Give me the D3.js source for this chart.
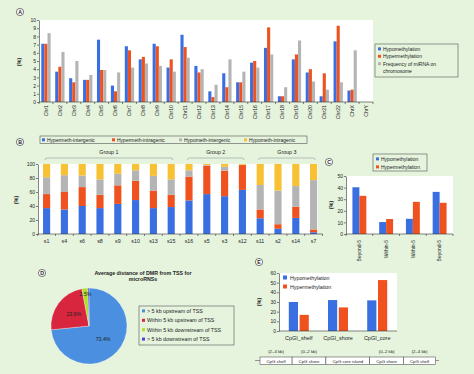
<!DOCTYPE html>
<html>
<head>
<meta charset="utf-8">
<script src="https://cdn.jsdelivr.net/npm/d3@7"></script>
<style>
  body { margin: 0; background: #e6f4de; }
  text { font-family: "Liberation Sans", Arial, sans-serif; fill: #222; }
</style>
</head>
<body>
<svg id="fig"></svg>
<script>
// ---- panel A data
let chrNames = ['Chr1','Chr2','Chr3','Chr4','Chr5','Chr6','Chr7','Chr8','Chr9','Chr10','Chr11','Chr12',
                'Chr13','Chr14','Chr15','Chr16','Chr17','Chr18','Chr19','Chr20','Chr21','Chr22','ChrX','ChrY'];
let hypoA  = [7.1, 3.7, 2.9, 2.7, 7.6, 2.0, 6.8, 5.2, 7.1, 4.2, 8.2, 4.4, 1.3, 3.5, 2.4, 4.8, 6.6, 0.7, 5.2, 3.6, 0.7, 7.4, 1.4, 0];
let hyperA = [7.1, 4.3, 2.4, 2.7, 3.9, 1.3, 6.3, 5.5, 6.8, 5.2, 6.7, 3.6, 0.6, 1.8, 2.4, 5.0, 9.1, 0.7, 5.8, 4.0, 3.5, 9.3, 1.5, 0];
let mirnaA = [8.4, 6.1, 5.0, 3.3, 3.9, 3.6, 4.2, 4.7, 4.4, 3.7, 5.4, 4.0, 2.1, 5.2, 3.7, 4.2, 5.8, 1.8, 7.5, 2.5, 1.5, 2.4, 6.3, 0];
let legendA = ['Hypomethylation', 'Hypermethylation', 'Frequency of miRNA on|chromosome'];

// ---- panel B data
let samplesB = ['s1','s4','s6','s8','s9','s10','s13','s15','s16','s5','s3','s12','s11','s2','s14','s7'];
let hyperInter = [37, 35, 40, 37, 43, 48.5, 37, 38.5, 48, 57, 54, 63, 22.5, 7.5, 23, 2.5];
let hyperIntra = [20, 25, 27, 19, 26.5, 27.5, 25, 17.5, 34, 40.5, 36.5, 35.5, 12.5, 6.5, 16, 4];
let hypoInter  = [24, 24, 16.5, 22, 16.5, 15, 21, 22, 9, 1, 5.5, 0.5, 35, 48, 29.5, 70.5];
let hypoIntra  = [19, 16, 16.5, 22, 14, 9, 17, 22, 9, 1.5, 4, 1, 30, 38, 31.5, 23];
let legendB = ['Hypermeth-intergenic', 'Hypermeth-intragenic', 'Hypometh-intergenic', 'Hypometh-intragenic'];
let groupNames = ['Group 1', 'Group 2', 'Group 3'];
let groupFirst = ['s1', 's16', 's11'];
let groupLast  = ['s15', 's12', 's7'];

// ---- panel C data
let catsC = ['Beyond-5', 'Within-5', 'Within-5', 'Beyond-5'];
let hypoC  = [40.3, 10.3, 13.1, 36.3];
let hyperC = [32.9, 12.9, 27.7, 26.9];

// ---- panel D data
let sliceNames = ['> 5 kb upstream of TSS', 'Within 5 kb upstream of TSS', 'Within 5 kb downstream of TSS', '> 5 kb downstream of TSS'];
let sliceValues = [73.4, 23.6, 2.5, 0.5];
let sliceLabels = ['73.4%', '23.6%', '2.5%', ''];

// ---- panel E data
let catsE = ['CpGI_shelf', 'CpGI_shore', 'CpGI_core'];
let hypoE  = [30, 32, 31.7];
let hyperE = [16.7, 24.4, 52.7];
let regionNames = ['CpG shelf', 'CpG shore', 'CpG core island', 'CpG shore', 'CpG shelf'];
let regionRanges = ['(2–4 kb)', '(0–2 kb)', '', '(0–2 kb)', '(2–4 kb)'];

let blue = '#3a6fe2', red = '#f0521f', gray = '#b4b4b4', yellow = '#f8c133';

let svg = d3.select('#fig').attr('width', 474).attr('height', 374);
svg.append('rect').attr('width', 474).attr('height', 374).attr('fill', '#e6f4de');

function styleAxis(g, fs) {
  g.selectAll('path, line').attr('stroke', '#333').attr('stroke-width', 0.6);
  g.selectAll('text').attr('font-size', fs || 5).attr('fill', '#222').attr('font-family', null);
}

function panelLetter(x, y, letter) {
  svg.append('circle').attr('cx', x).attr('cy', y).attr('r', 3.6)
     .attr('fill', '#fff').attr('stroke', '#222').attr('stroke-width', 0.6);
  svg.append('text').attr('x', x).attr('y', y + 1.9).attr('text-anchor', 'middle')
     .attr('font-size', 5.2).attr('font-weight', 'bold').text(letter);
}

function yLabel(x, y) {
  svg.append('text').attr('transform', 'translate(' + x + ',' + y + ') rotate(-90)')
     .attr('text-anchor', 'middle').attr('font-size', 5.5).attr('font-weight', 'bold').text('(%)');
}

// boundary ticks under a band scale
function bandTicks(scale, y) {
  let bounds = scale.domain().map(d => scale(d) - scale.step() * scale.paddingInner() / 2);
  bounds.push(scale.range()[1]);
  svg.append('g').selectAll('line').data(bounds).join('line')
     .attr('x1', d => d).attr('x2', d => d).attr('y1', y).attr('y2', y + 2)
     .attr('stroke', '#333').attr('stroke-width', 0.6);
  svg.append('line').attr('x1', scale.range()[0]).attr('x2', scale.range()[1])
     .attr('y1', y).attr('y2', y).attr('stroke', '#333').attr('stroke-width', 0.6);
}

function legendBox(x, y, w, h, names, colors, rowH, fs) {
  let g = svg.append('g');
  g.append('rect').attr('x', x).attr('y', y).attr('width', w).attr('height', h)
   .attr('fill', 'none').attr('stroke', '#555').attr('stroke-width', 0.6);
  let row = 0;
  names.forEach((n, i) => {
    let lines = n.split('|');
    let cy = y + 5 + row * rowH;
    g.append('rect').attr('x', x + 3).attr('y', cy - 1.6).attr('width', 3).attr('height', 3).attr('fill', colors[i]);
    lines.forEach((l, k) => {
      g.append('text').attr('x', x + 8).attr('y', cy + 1.8 + k * rowH).attr('font-size', fs).text(l);
    });
    row += lines.length;
  });
}

// ================= Panel A
panelLetter(20, 12, 'A');
let xA = d3.scaleBand().domain(chrNames).range([39, 373]).paddingInner(0.33).paddingOuter(0.165);
let subA = d3.scaleBand().domain([0, 1, 2]).range([0, xA.bandwidth()]);
let yA = d3.scaleLinear().domain([0, 10]).range([102, 20]);
svg.append('rect').attr('x', 39).attr('y', yA(10)).attr('width', 334).attr('height', yA(0) - yA(10)).attr('fill', '#fff');
let seriesA = [hypoA, hyperA, mirnaA];
let colorsA = [blue, red, gray];
seriesA.forEach((s, j) => {
  svg.append('g').selectAll('rect').data(s).join('rect')
     .attr('x', (d, i) => xA(chrNames[i]) + subA(j))
     .attr('y', d => yA(d))
     .attr('width', subA.bandwidth())
     .attr('height', d => yA(0) - yA(d))
     .attr('fill', colorsA[j]);
});
let gyA = svg.append('g').attr('transform', 'translate(39,0)')
  .call(d3.axisLeft(yA).ticks(10).tickSize(2).tickPadding(1).tickSizeOuter(0));
styleAxis(gyA, 5);
bandTicks(xA, yA(0));
svg.append('g').selectAll('text').data(chrNames).join('text')
   .attr('transform', d => 'translate(' + (xA(d) + xA.bandwidth() / 2 + 1.8) + ',' + (yA(0) + 3) + ') rotate(-90)')
   .attr('text-anchor', 'end').attr('font-size', 5.2).text(d => d);
yLabel(21, 62);
legendBox(375, 44, 83, 33, legendA, colorsA, 7.4, 5);

// ================= Panel B
panelLetter(20, 142, 'B');
let xB = d3.scaleBand().domain(samplesB).range([37.7, 322.5]).paddingInner(0.6).paddingOuter(0.3);
let yB = d3.scaleLinear().domain([0, 100]).range([234, 164]);
svg.append('rect').attr('x', 38).attr('y', yB(100)).attr('width', 280).attr('height', yB(0) - yB(100)).attr('fill', '#fff');
let keysB = ['hyperInter', 'hyperIntra', 'hypoInter', 'hypoIntra'];
let colorsB = [blue, red, gray, yellow];
let tableB = samplesB.map((s, i) => ({ sample: s, hyperInter: hyperInter[i], hyperIntra: hyperIntra[i], hypoInter: hypoInter[i], hypoIntra: hypoIntra[i] }));
let stackB = d3.stack().keys(keysB)(tableB);
svg.append('g').selectAll('g').data(stackB).join('g')
   .attr('fill', (d, i) => colorsB[i])
   .selectAll('rect').data(d => d).join('rect')
   .attr('x', d => xB(d.data.sample))
   .attr('y', d => yB(d[1]))
   .attr('width', xB.bandwidth())
   .attr('height', d => yB(d[0]) - yB(d[1]));
let gyB = svg.append('g').attr('transform', 'translate(38,0)')
  .call(d3.axisLeft(yB).tickValues([0, 20, 40, 60, 80, 100]).tickSize(2).tickPadding(1).tickSizeOuter(0));
styleAxis(gyB, 5);
bandTicks(xB, yB(0));
svg.append('g').selectAll('text').data(samplesB).join('text')
   .attr('x', d => xB(d) + xB.bandwidth() / 2).attr('y', yB(0) + 9)
   .attr('text-anchor', 'middle').attr('font-size', 5.3).text(d => d);
yLabel(18, 200);
// legend B (single row)
let lgB = svg.append('g');
lgB.append('rect').attr('x', 40).attr('y', 136).attr('width', 267).attr('height', 7.5)
   .attr('fill', 'none').attr('stroke', '#555').attr('stroke-width', 0.6);
let lgBx = [42, 112, 179, 244];
legendB.forEach((n, i) => {
  lgB.append('rect').attr('x', lgBx[i]).attr('y', 138.3).attr('width', 3).attr('height', 3).attr('fill', colorsB[i]);
  lgB.append('text').attr('x', lgBx[i] + 5).attr('y', 141.6).attr('font-size', 5).text(n);
});
// group brackets
groupNames.forEach((g, i) => {
  let x1 = xB(groupFirst[i]) + 2, x2 = xB(groupLast[i]) + xB.bandwidth() - 2, yb = 158;
  svg.append('path').attr('d', 'M' + x1 + ',' + (yb + 2) + 'Q' + x1 + ',' + yb + ' ' + (x1 + 2) + ',' + yb +
                      'L' + (x2 - 2) + ',' + yb + 'Q' + x2 + ',' + yb + ' ' + x2 + ',' + (yb + 2))
     .attr('fill', 'none').attr('stroke', '#8a9a9a').attr('stroke-width', 0.6);
  svg.append('text').attr('x', (x1 + x2) / 2).attr('y', 154).attr('text-anchor', 'middle').attr('font-size', 5.3).text(g);
});

// ================= Panel C
panelLetter(329, 162, 'C');
let idxC = catsC.map((d, i) => i);
let xC = d3.scaleBand().domain(idxC).range([346, 453]).paddingInner(0.48).paddingOuter(0.24);
let subC = d3.scaleBand().domain([0, 1]).range([0, xC.bandwidth()]);
let yC = d3.scaleLinear().domain([0, 50]).range([234, 176]);
svg.append('rect').attr('x', 346).attr('y', yC(50)).attr('width', 107).attr('height', yC(0) - yC(50)).attr('fill', '#fff');
[hypoC, hyperC].forEach((s, j) => {
  svg.append('g').selectAll('rect').data(s).join('rect')
     .attr('x', (d, i) => xC(i) + subC(j)).attr('y', d => yC(d))
     .attr('width', subC.bandwidth()).attr('height', d => yC(0) - yC(d))
     .attr('fill', [blue, red][j]);
});
let gyC = svg.append('g').attr('transform', 'translate(346,0)')
  .call(d3.axisLeft(yC).ticks(5).tickSize(2).tickPadding(1).tickSizeOuter(0));
styleAxis(gyC, 5);
bandTicks(xC, yC(0));
svg.append('g').selectAll('text').data(catsC).join('text')
   .attr('transform', (d, i) => 'translate(' + (xC(i) + xC.bandwidth() / 2 + 1.8) + ',' + (yC(0) + 6) + ') rotate(-90)')
   .attr('text-anchor', 'end').attr('font-size', 5).text(d => d);
yLabel(333, 205);
legendBox(373, 154, 54, 17, ['Hypomethylation', 'Hypermethylation'], [blue, red], 8, 5);

// ================= Panel D
panelLetter(42, 273, 'D');
svg.append('text').attr('x', 143).attr('y', 274.5).attr('text-anchor', 'middle')
   .attr('font-size', 5.3).attr('font-weight', 'bold').text('Average distance of DMR from TSS for');
svg.append('text').attr('x', 143).attr('y', 281).attr('text-anchor', 'middle')
   .attr('font-size', 5.3).attr('font-weight', 'bold').text('microRNSs');
let pieColors = ['#4a8fe0', '#d8263f', '#aede2a', '#5a3fd8'];
let r = 38;
let pie = d3.pie().sort(null)(sliceValues);
let arc = d3.arc().innerRadius(0).outerRadius(r);
let gD = svg.append('g').attr('transform', 'translate(89,326)');
gD.selectAll('path').data(pie).join('path').attr('d', arc)
  .attr('fill', (d, i) => pieColors[i]).attr('stroke', '#fff').attr('stroke-width', 0.3);
let labelArc = d3.arc().innerRadius(r * 0.5).outerRadius(r * 0.5);
let smallArc = d3.arc().innerRadius(r * 0.84).outerRadius(r * 0.84);
gD.selectAll('text').data(pie).join('text')
  .attr('transform', (d, i) => 'translate(' + (sliceValues[i] < 5 ? smallArc : labelArc).centroid(d) + ')')
  .attr('text-anchor', 'middle').attr('dy', '0.35em').attr('font-size', 5.2).attr('fill', '#222')
  .text((d, i) => sliceLabels[i]);
legendBox(139, 306, 95, 39, sliceNames, pieColors, 9.4, 5.3);

// ================= Panel E
panelLetter(259, 262, 'E');
let xE = d3.scaleBand().domain(catsE).range([279, 397]).paddingInner(0.49).paddingOuter(0.25);
let subE = d3.scaleBand().domain([0, 1]).range([0, xE.bandwidth()]).paddingInner(0.15);
let yE = d3.scaleLinear().domain([0, 60]).range([331, 273]);
svg.append('rect').attr('x', 279).attr('y', yE(60)).attr('width', 118).attr('height', yE(0) - yE(60)).attr('fill', '#fff');
[hypoE, hyperE].forEach((s, j) => {
  svg.append('g').selectAll('rect').data(s).join('rect')
     .attr('x', (d, i) => xE(catsE[i]) + subE(j)).attr('y', d => yE(d))
     .attr('width', subE.bandwidth()).attr('height', d => yE(0) - yE(d))
     .attr('fill', [blue, red][j]);
});
let gyE = svg.append('g').attr('transform', 'translate(279,0)')
  .call(d3.axisLeft(yE).ticks(6).tickSize(2).tickPadding(1).tickSizeOuter(0));
styleAxis(gyE, 5);
svg.append('line').attr('x1', 279).attr('x2', 397).attr('y1', yE(0)).attr('y2', yE(0)).attr('stroke', '#333').attr('stroke-width', 0.6);
svg.append('g').selectAll('text').data(catsE).join('text')
   .attr('x', d => xE(d) + xE.bandwidth() / 2).attr('y', yE(0) + 9)
   .attr('text-anchor', 'middle').attr('font-size', 5.5).text(d => d);
yLabel(261, 302);
let lgE = svg.append('g');
lgE.append('rect').attr('x', 281).attr('y', 273).attr('width', 56).attr('height', 18).attr('fill', '#fff');
[['Hypomethylation', blue], ['Hypermethylation', red]].forEach((p, i) => {
  lgE.append('rect').attr('x', 283).attr('y', 275.5 + i * 9).attr('width', 4).attr('height', 4).attr('fill', p[1]);
  lgE.append('text').attr('x', 290).attr('y', 279.5 + i * 9).attr('font-size', 5.3).text(p[0]);
});

// CpG region diagram
svg.append('line').attr('x1', 255).attr('x2', 439).attr('y1', 360.5).attr('y2', 360.5).attr('stroke', '#555').attr('stroke-width', 0.6);
let gR = svg.append('g');
let rx = 260;
regionNames.forEach((n, i) => {
  let t = gR.append('text').attr('y', 362.6).attr('font-size', 4.3).attr('text-anchor', 'middle').text(n);
  let w = t.node().getComputedTextLength() + 13;
  gR.insert('rect', 'text').attr('x', rx).attr('y', 357).attr('width', w).attr('height', 7.5)
    .attr('fill', '#fff').attr('stroke', '#555').attr('stroke-width', 0.6);
  t.attr('x', rx + w / 2);
  gR.append('text').attr('x', rx + w / 2).attr('y', 353).attr('font-size', 4.3)
    .attr('text-anchor', 'middle').text(regionRanges[i]);
  rx += w;
});
</script>
</body>
</html>
